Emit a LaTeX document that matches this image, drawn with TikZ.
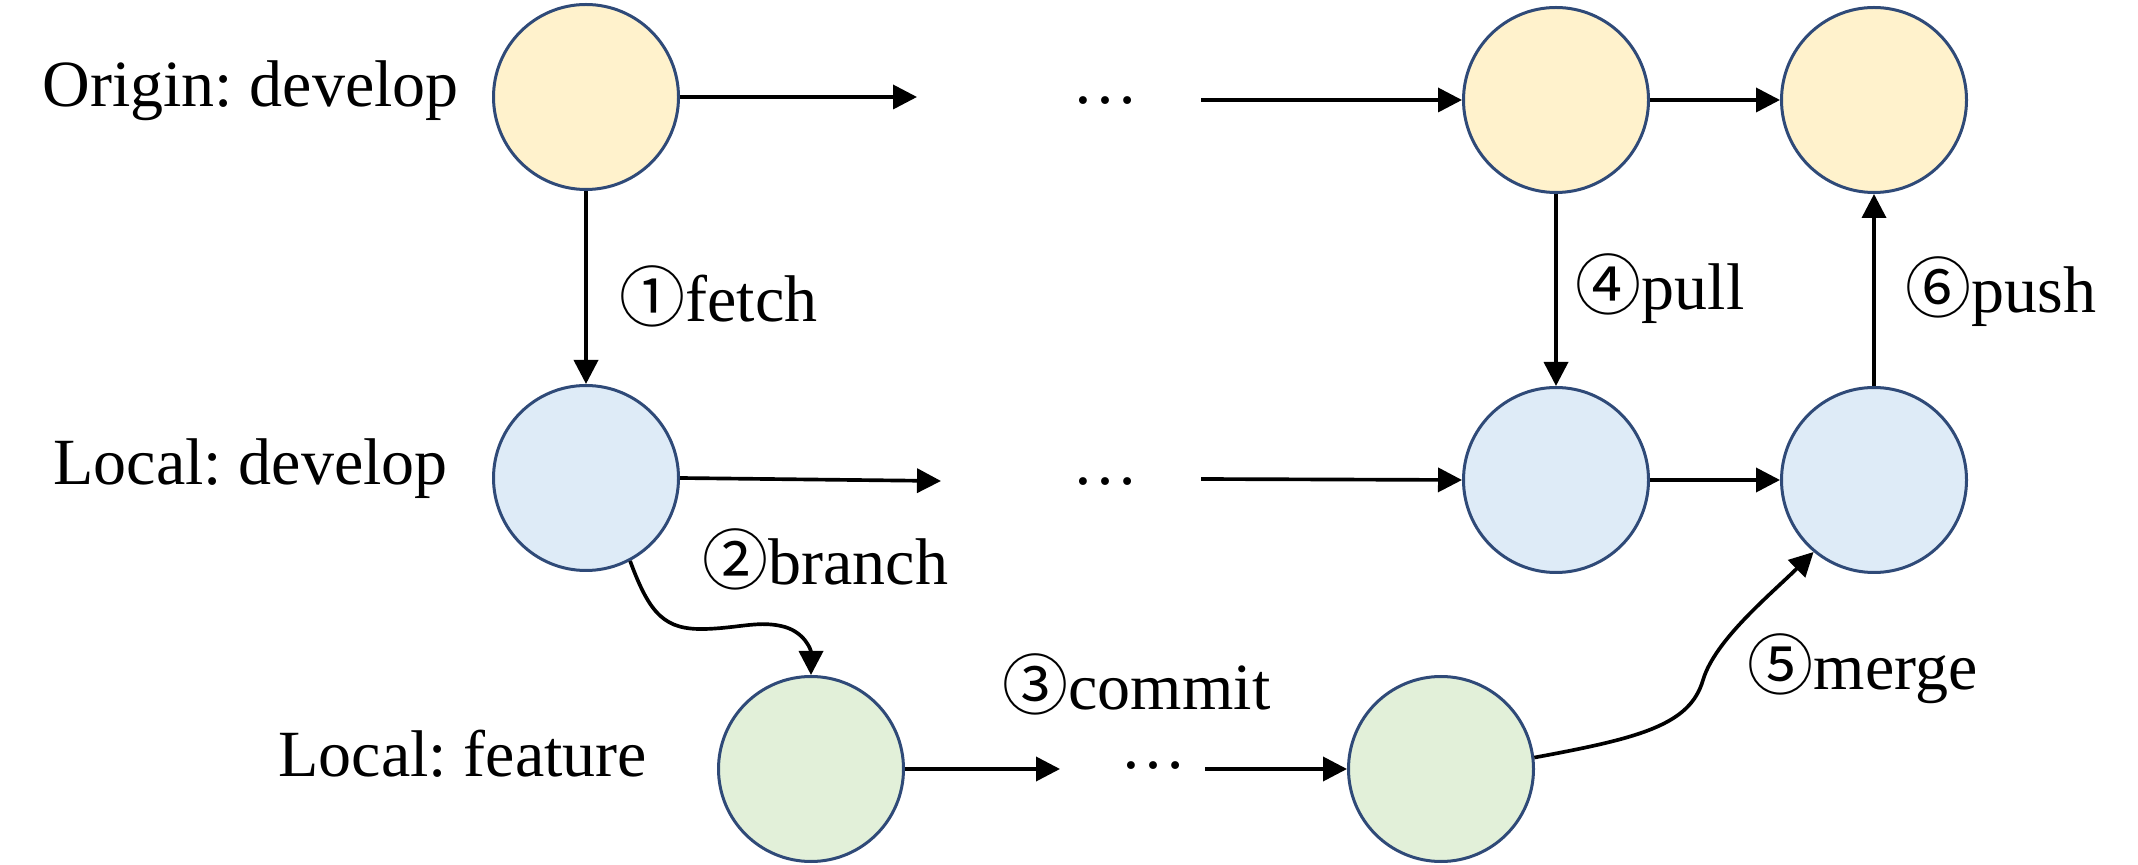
\documentclass[tikz,border=0pt]{standalone}
\usepackage{fontspec}
\setmainfont{Liberation Serif}
\newfontfamily\cjk{Noto Sans CJK SC}
\usetikzlibrary{arrows.meta}
\frenchspacing
\definecolor{edgeblue}{HTML}{2F4A78}
\definecolor{fillyellow}{HTML}{FFF2CC}
\definecolor{fillblue}{HTML}{DEEBF7}
\definecolor{fillgreen}{HTML}{E2F0D9}
\tikzset{
  commitnode/.style={circle, draw=edgeblue, line width=0.9pt, minimum size=55.5pt, inner sep=0pt},
  origin/.style={commitnode, fill=fillyellow},
  localdev/.style={commitnode, fill=fillblue},
  feat/.style={commitnode, fill=fillgreen},
  lbl/.style={anchor=base west, inner sep=0pt, font=\fontsize{19.8}{24}\selectfont},
  dotsnode/.style={anchor=base, inner sep=0pt, text height=3pt, text depth=0pt, font=\fontsize{19.8}{24}\selectfont},
  arr/.style={line width=1.1pt, -{Triangle[length=7.2pt,width=7.2pt]}},
}
\begin{document}
\begin{tikzpicture}[x=0.3pt, y=-0.3pt]
\useasboundingbox (0,0) rectangle (2138,865);
% commits
\node[origin] (o1) at (586,97) {};
\node[origin] (o2) at (1556,100) {};
\node[origin] (o3) at (1874,100) {};
\node[localdev] (l1) at (586,478) {};
\node[localdev] (l2) at (1556,480) {};
\node[localdev] (l3) at (1874,480) {};
\node[feat] (f1) at (811,769) {};
\node[feat] (f2) at (1441,769) {};
% row labels
\node[lbl] (t1) at (42,107) {Origin: develop};
\node[lbl] (t2) at (53,485) {Local: develop};
\node[lbl] (t3) at (278,777) {Local: feature};
% dots
\node[dotsnode] (d1) at (1105,104) {…};
\node[dotsnode] (d2) at (1105,485) {…};
\node[dotsnode] (d3) at (1153,769) {…};
% step labels
\node[lbl] (s1) at (619,322) {{\cjk ①}fetch};
\node[lbl] (s2) at (702,585) {{\cjk ②}branch};
\node[lbl] (s3) at (1002,710) {{\cjk ③}commit};
\node[lbl] (s4) at (1575,310) {{\cjk ④}pull};
\node[lbl] (s5) at (1747,689) {{\cjk ⑤}merge};
\node[lbl] (s6) at (1905,313) {{\cjk ⑥}push};
% free ends
\coordinate (c1) at (917,97);
\coordinate (c2) at (1201,100);
\coordinate (c3) at (941,481);
\coordinate (c4) at (1201,479);
\coordinate (c5) at (1060,769);
\coordinate (c6) at (1205,769);
% connectors
\draw[arr] (o1) -- (c1);
\draw[arr] (c2) -- (o2);
\draw[arr] (o2) -- (o3);
\draw[arr] (l1.east) -- (c3);
\draw[arr] (c4) -- (l2.west);
\draw[arr] (l2) -- (l3);
\draw[arr] (f1) -- (c5);
\draw[arr] (c6) -- (f2);
\draw[arr] (o1) -- (l1);
\draw[arr] (o2) -- (l2);
\draw[arr] (l3) -- (o3);
\draw[arr] (l1.-62) .. controls (650,615) and (665,630) .. (705,629)
  .. controls (740,628) and (760,620) .. (785,627)
  .. controls (805,633) and (811,650) .. (f1.north);
\draw[arr] (f2.7) .. controls (1640,738) and (1690,725) .. (1703,680)
  .. controls (1715,640) and (1770,595) .. (l3.230);
\end{tikzpicture}
\end{document}
